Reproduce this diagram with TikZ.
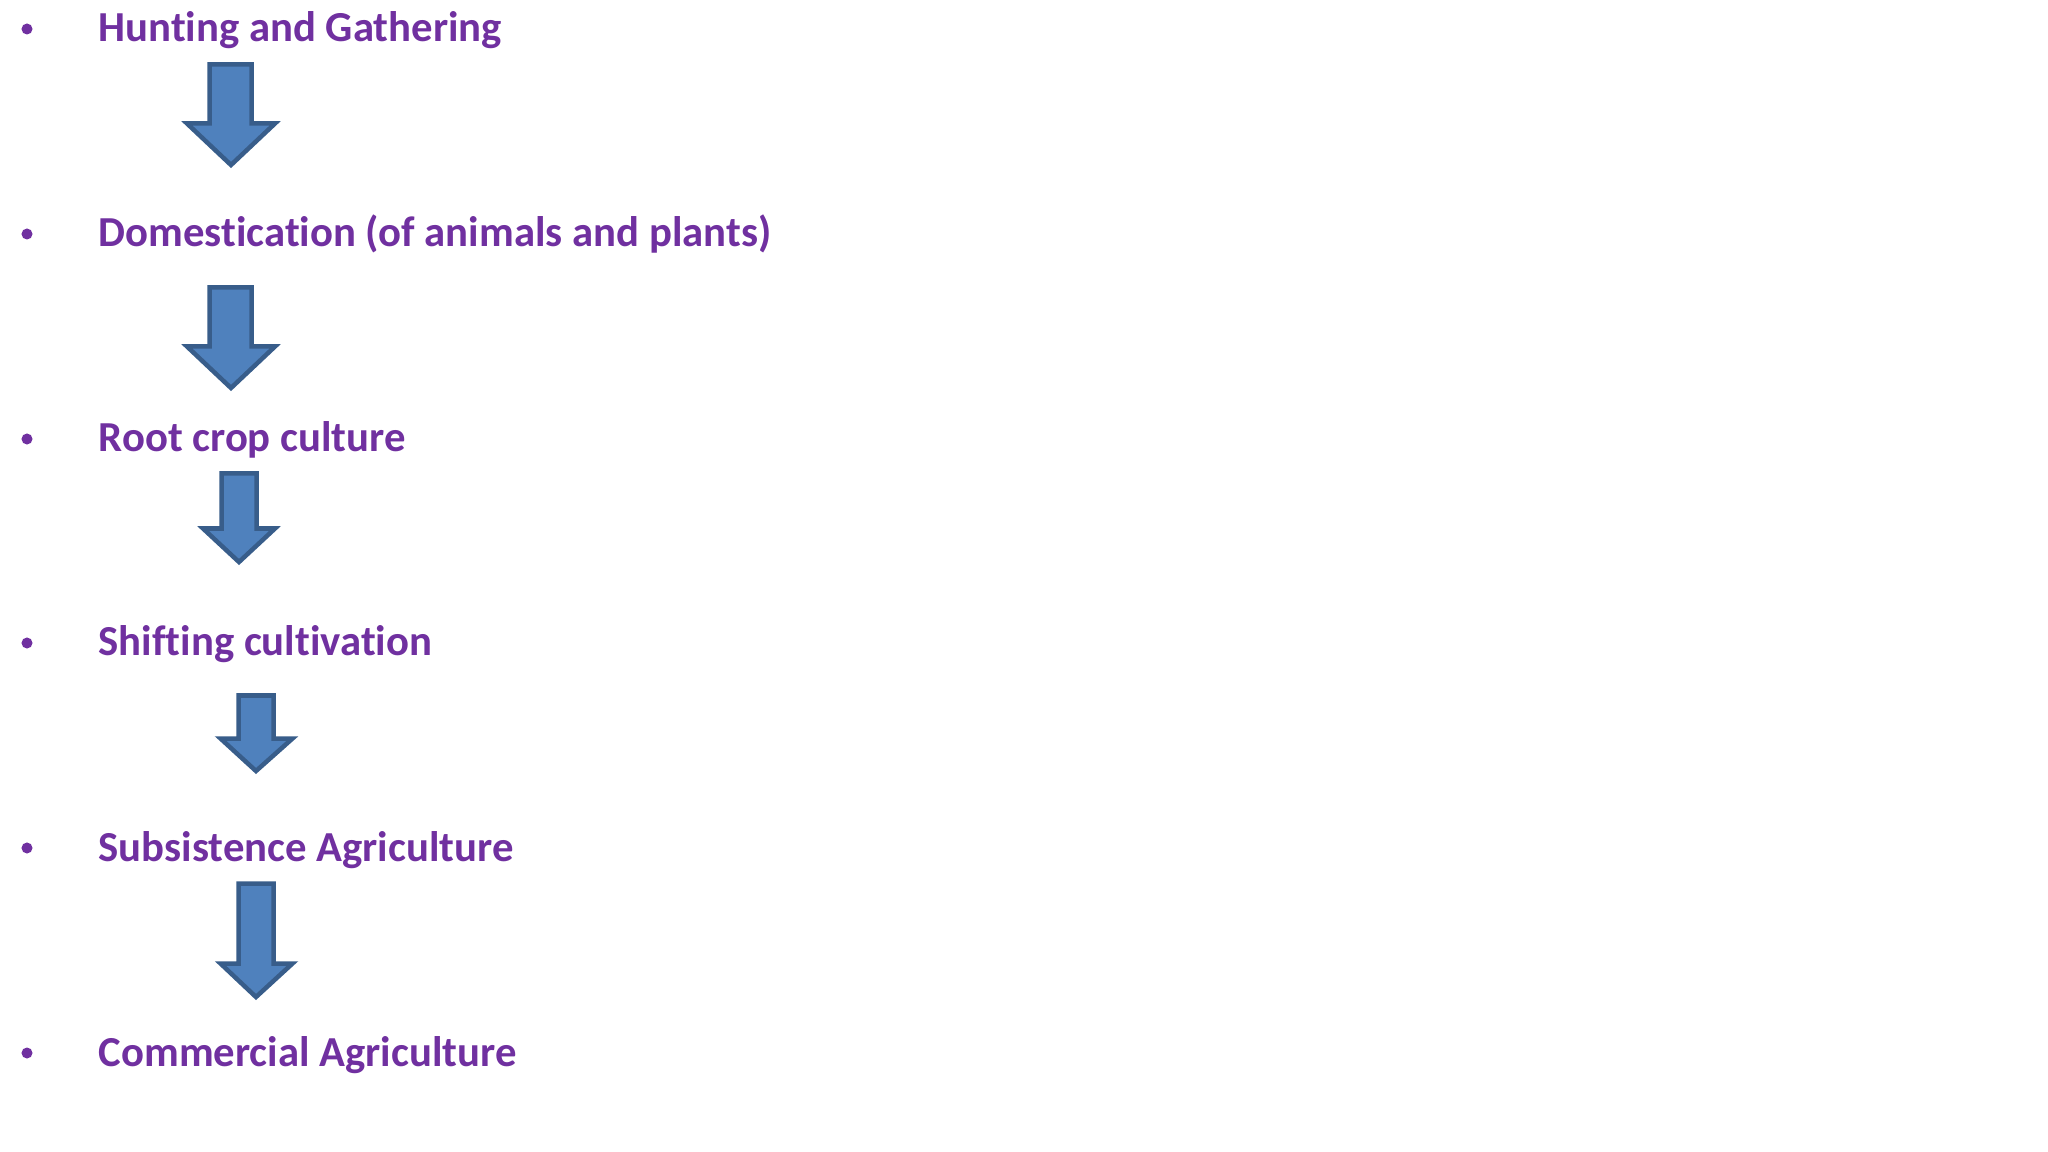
\documentclass[tikz,border=0pt]{standalone}
\usepackage{fontspec}
\setmainfont[Ligatures=NoCommon]{Carlito}
\definecolor{txtpurple}{HTML}{7030A0}
\definecolor{arrowfill}{HTML}{4F81BD}
\definecolor{arrowline}{HTML}{385D8A}
\begin{document}
\begin{tikzpicture}[x=0.01cm,y=-0.01cm,
  item/.style={anchor=base west, inner sep=0, font=\fontsize{12.15}{14}\selectfont\bfseries, text=txtpurple},
  dot/.style={circle, fill=txtpurple, inner sep=0, minimum size=0.11cm},
  blockarrow/.style={fill=arrowfill, draw=arrowline, line width=0.045cm, line join=miter}]
\fill[white] (0,0) rectangle (2048,1152);
\useasboundingbox (0,0) rectangle (2048,1152);

% bullets
\node[dot] (b1) at (27,29) {};
\node[dot] (b2) at (27,234) {};
\node[dot] (b3) at (27,439) {};
\node[dot] (b4) at (27,643) {};
\node[dot] (b5) at (27,848) {};
\node[dot] (b6) at (27,1053) {};

% items
\node[item] (t1) at (98,42) {Hunting and Gathering};
\node[item] (t2) at (98,247) {Domestication (of animals and plants)};
\node[item] (t3) at (98,452) {Root crop culture};
\node[item] (t4) at (98,656) {Shifting cultivation};
\node[item] (t5) at (98,861) {Subsistence Agriculture};
\node[item] (t6) at (98,1066) {Commercial Agriculture};

% block arrows
\draw[blockarrow] (209.5,64.5) -- (251.5,64.5) -- (251.5,123.5) -- (275,123.5) -- (231,165) -- (187,123.5) -- (209.5,123.5) -- cycle;
\draw[blockarrow] (209.5,287.5) -- (251.5,287.5) -- (251.5,346.5) -- (275,346.5) -- (231,388) -- (187,346.5) -- (209.5,346.5) -- cycle;
\draw[blockarrow] (221.5,473.5) -- (256.5,473.5) -- (256.5,528.5) -- (275,528.5) -- (239,562) -- (203,528.5) -- (221.5,528.5) -- cycle;
\draw[blockarrow] (238.5,695.5) -- (273.5,695.5) -- (273.5,738.5) -- (292.5,738.5) -- (256,771) -- (220.5,738.5) -- (238.5,738.5) -- cycle;
\draw[blockarrow] (238.5,883.5) -- (273.5,883.5) -- (273.5,963.5) -- (292.5,963.5) -- (256,997) -- (220.5,963.5) -- (238.5,963.5) -- cycle;
\end{tikzpicture}
\end{document}
